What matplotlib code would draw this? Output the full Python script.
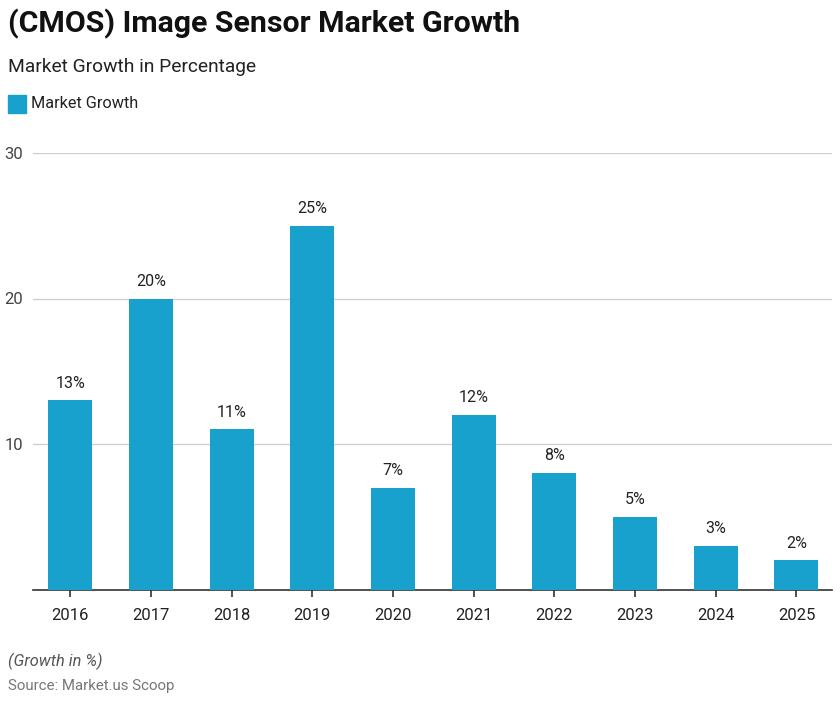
import matplotlib.pyplot as plt

years = ['2016', '2017', '2018', '2019', '2020', '2021', '2022', '2023', '2024', '2025']
growth = [13, 20, 11, 25, 7, 12, 8, 5, 3, 2]
y_ticks = [10, 20, 30]

plt.rcParams['font.family'] = ['Roboto', 'DejaVu Sans']

fig = plt.figure(figsize=(8.4, 7.01), dpi=100)
ax = fig.add_axes([33 / 840, (701 - 589.5) / 701, (832 - 33) / 840, (589.5 - 153) / 701])

x = list(range(len(years)))
bars = ax.bar(x, growth, width=0.545, color='#18a1cd', zorder=3)
for b, v in zip(bars, growth):
    ax.annotate(f'{v}%', (b.get_x() + b.get_width() / 2, v), xytext=(0, 7),
                textcoords='offset points', ha='center', va='bottom',
                fontsize=11.5, color='#222222')

ax.set_xlim(-0.46, 9.44)
ax.set_ylim(0, 30)
ax.set_xticks(x)
ax.set_xticklabels(years, fontsize=12, color='#222222')
ax.set_yticks(y_ticks)
ax.set_yticklabels([str(t) for t in y_ticks], fontsize=12, color='#444444')
ax.grid(axis='y', color='#cccccc', linewidth=0.9, zorder=0)
for s in ['top', 'right', 'left']:
    ax.spines[s].set_visible(False)
ax.spines['bottom'].set_color('#333333')
ax.spines['bottom'].set_linewidth(1.2)
ax.tick_params(axis='y', length=0, pad=7)
ax.tick_params(axis='x', length=5, width=1.2, color='#333333', pad=8)

fig.text(8 / 840, 1 - 24 / 701, '(CMOS) Image Sensor Market Growth', fontsize=21.8,
         fontweight='bold', color='#111111', va='center', ha='left')
fig.text(8 / 840, 1 - 67 / 701, 'Market Growth in Percentage', fontsize=13.8,
         color='#222222', va='center', ha='left')
fig.patches.append(plt.Rectangle((8 / 840, 1 - 113 / 701), 18 / 840, 18 / 701,
                                 transform=fig.transFigure, color='#18a1cd', figure=fig))
fig.text(31 / 840, 1 - 104 / 701, 'Market Growth', fontsize=11.7,
         color='#222222', va='center', ha='left')
fig.text(8 / 840, 1 - 661 / 701, '(Growth in %)', fontsize=11.8, style='italic',
         color='#555555', va='center', ha='left')
fig.text(8 / 840, 1 - 686 / 701, 'Source: Market.us Scoop', fontsize=10.8,
         color='#777777', va='center', ha='left')

fig.savefig('out.png', dpi=100)
